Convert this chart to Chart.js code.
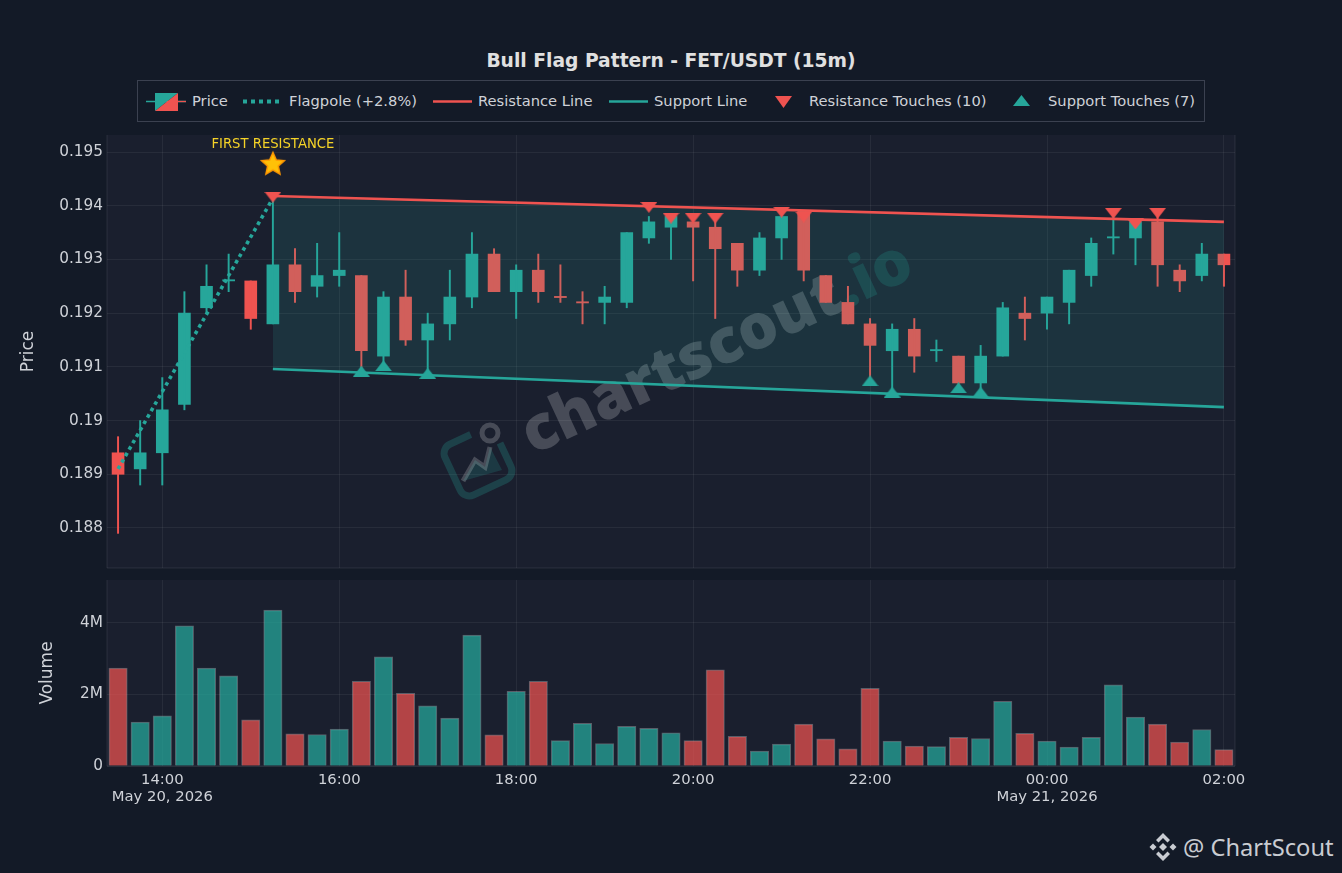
<!DOCTYPE html>
<html>
<head>
<meta charset="utf-8">
<title>Bull Flag Pattern - FET/USDT (15m)</title>
<script src="https://cdn.jsdelivr.net/npm/chart.js@4"></script>
<style>
    html, body { margin: 0; padding: 0; background: #131a27; width: 1342px; height: 873px; overflow: hidden; }
    body { position: relative; font-family: "DejaVu Sans", sans-serif; color: #d0d3d9; }
    canvas { position: absolute; left: 0; }
    #priceChart { top: 125px; }
    #volumeChart { top: 575px; }
    #title { position: absolute; left: 0; width: 1342px; top: 50px; text-align: center; font-size: 18.7px; line-height: 22px; font-weight: bold; color: #e0e0e0; }
    #legend { position: absolute; left: 137px; top: 80px; width: 1066px; height: 40px; border: 1px solid #3b4150; box-sizing: content-box; }
    #legend span { position: absolute; top: 0; line-height: 40px; font-size: 14.7px; white-space: nowrap; color: #cfd2d8; }
    #legend svg { position: absolute; left: 0; top: 0; }
    #brand { position: absolute; left: 1183px; top: 830px; font-family: "Noto Sans", sans-serif; font-size: 23.7px; line-height: 34px; color: #c9ccd2; white-space: nowrap; }
    #brandLogo { position: absolute; left: 1148px; top: 832px; }
</style>
</head>
<body>
<div id="title">Bull Flag Pattern - FET/USDT (15m)</div>
<div id="legend">
    <svg width="1066" height="40">
        <line x1="8" y1="20.5" x2="48" y2="20.5" stroke="#26a69a" stroke-width="1.3"/>
        <line x1="28" y1="20.5" x2="48" y2="20.5" stroke="#ef5350" stroke-width="1.3"/>
        <polygon points="17,12 40,12 17,30" fill="#26a69a"/>
        <polygon points="40,12 40,30 17,30" fill="#ef5350"/>
        <line x1="105" y1="20.5" x2="142" y2="20.5" stroke="#26a69a" stroke-width="4" stroke-dasharray="4 4"/>
        <line x1="295" y1="20.5" x2="334" y2="20.5" stroke="#ef5350" stroke-width="2.5"/>
        <line x1="471" y1="20.5" x2="510" y2="20.5" stroke="#26a69a" stroke-width="2.5"/>
        <polygon points="637,15 654,15 645.5,27" fill="#ef5350"/>
        <polygon points="875,25 892,25 883.5,14" fill="#26a69a"/>
    </svg>
</div>
<canvas id="priceChart" width="1342" height="450"></canvas>
<canvas id="volumeChart" width="1342" height="230"></canvas>
<svg id="brandLogo" width="30" height="30" viewBox="0 0 30 30" fill="#c9ccd2">
    <polygon points="15,1 22,8 19.5,10.5 15,6 10.5,10.5 8,8"/>
    <polygon points="15,29 8,22 10.5,19.5 15,24 19.5,19.5 22,22"/>
    <polygon points="5,11.5 8.5,15 5,18.5 1.5,15"/>
    <polygon points="25,11.5 28.5,15 25,18.5 21.5,15"/>
    <polygon points="15,11 19,15 15,19 11,15"/>
</svg>
<div id="brand">@ ChartScout</div>

<script>
// 15 minute candles, 13:30 to 02:00
const times = ['13:30', '13:45', '14:00', '14:15', '14:30', '14:45', '15:00', '15:15', '15:30', '15:45',
    '16:00', '16:15', '16:30', '16:45', '17:00', '17:15', '17:30', '17:45', '18:00', '18:15',
    '18:30', '18:45', '19:00', '19:15', '19:30', '19:45', '20:00', '20:15', '20:30', '20:45',
    '21:00', '21:15', '21:30', '21:45', '22:00', '22:15', '22:30', '22:45', '23:00', '23:15',
    '23:30', '23:45', '00:00', '00:15', '00:30', '00:45', '01:00', '01:15', '01:30', '01:45', '02:00'];

const opens = [0.1894, 0.1891, 0.1894, 0.1903, 0.1921, 0.1926, 0.1926, 0.1918, 0.1929, 0.1925,
    0.1927, 0.1927, 0.1912, 0.1923, 0.1915, 0.1918, 0.1923, 0.1931, 0.1924, 0.1928,
    0.1923, 0.1922, 0.1922, 0.1922, 0.1934, 0.1936, 0.1937, 0.1936, 0.1933, 0.1928,
    0.1934, 0.1939, 0.1927, 0.1922, 0.1918, 0.1913, 0.1917, 0.1913, 0.1912, 0.1907,
    0.1912, 0.1920, 0.1920, 0.1922, 0.1927, 0.1934, 0.1934, 0.1937, 0.1928, 0.1927, 0.1931];
const highs = [0.1897, 0.1900, 0.1908, 0.1924, 0.1929, 0.1931, 0.1926, 0.1942, 0.1932, 0.1933,
    0.1935, 0.1927, 0.1924, 0.1928, 0.1920, 0.1928, 0.1935, 0.1932, 0.1929, 0.1931,
    0.1929, 0.1924, 0.1925, 0.1935, 0.1938, 0.1938, 0.1937, 0.1938, 0.1933, 0.1935,
    0.1939, 0.1939, 0.1927, 0.1925, 0.1919, 0.1918, 0.1919, 0.1915, 0.1912, 0.1914,
    0.1922, 0.1923, 0.1923, 0.1928, 0.1934, 0.1938, 0.1937, 0.1938, 0.1929, 0.1933, 0.1931];
const lows = [0.1879, 0.1888, 0.1888, 0.1902, 0.1920, 0.1924, 0.1917, 0.1918, 0.1922, 0.1923,
    0.1925, 0.1909, 0.1910, 0.1914, 0.1909, 0.1915, 0.1921, 0.1924, 0.1919, 0.1922,
    0.1922, 0.1918, 0.1918, 0.1921, 0.1933, 0.1930, 0.1926, 0.1919, 0.1925, 0.1927,
    0.1930, 0.1926, 0.1922, 0.1918, 0.1908, 0.1905, 0.1909, 0.1911, 0.1906, 0.1906,
    0.1912, 0.1915, 0.1917, 0.1918, 0.1925, 0.1931, 0.1929, 0.1925, 0.1924, 0.1926, 0.1925];
const closes = [0.1890, 0.1894, 0.1902, 0.1920, 0.1925, 0.1926, 0.1919, 0.1929, 0.1924, 0.1927,
    0.1928, 0.1913, 0.1923, 0.1915, 0.1918, 0.1923, 0.1931, 0.1924, 0.1928, 0.1924,
    0.19229, 0.19219, 0.1923, 0.1935, 0.1937, 0.1938, 0.1936, 0.1932, 0.1928, 0.1934,
    0.1938, 0.1928, 0.1922, 0.1918, 0.1914, 0.1917, 0.1912, 0.1913, 0.1907, 0.1912,
    0.1921, 0.1919, 0.1923, 0.1928, 0.1933, 0.1934, 0.1937, 0.1929, 0.1926, 0.1931, 0.1929];

// volume in millions, and whether the bar was drawn green
const volumes = [2.74, 1.23, 1.40, 3.92, 2.74, 2.52, 1.29, 4.36, 0.90, 0.88,
    1.03, 2.37, 3.05, 2.03, 1.68, 1.34, 3.66, 0.87, 2.09, 2.37,
    0.71, 1.19, 0.63, 1.11, 1.05, 0.93, 0.71, 2.69, 0.83, 0.42,
    0.61, 1.17, 0.76, 0.48, 2.17, 0.70, 0.56, 0.54, 0.80, 0.77,
    1.81, 0.91, 0.70, 0.53, 0.80, 2.27, 1.37, 1.17, 0.67, 1.02, 0.46];
const volumeUp = [0, 1, 1, 1, 1, 1, 0, 1, 0, 1,
    1, 0, 1, 0, 1, 1, 1, 0, 1, 0,
    1, 1, 1, 1, 1, 1, 0, 0, 0, 1,
    1, 0, 0, 0, 0, 1, 0, 1, 0, 1,
    1, 0, 1, 1, 1, 1, 1, 0, 0, 1, 0];

// pattern lines and touches
const flagpoleTimes = ['13:30', '15:15'];
const flagpoleValues = [0.1891, 0.19414];
const channelTimes = ['15:15', '02:00'];
const resistanceValues = [0.19418, 0.19370];
const supportValues = [0.19096, 0.19025];
const resistanceTouchTimes = ['15:15', '19:30', '19:45', '20:00', '20:15', '21:00', '21:15', '00:45', '01:00', '01:15'];
const resistanceTouchValues = [0.19416, 0.19397, 0.19377, 0.19377, 0.19377, 0.19388, 0.19379, 0.19386, 0.19366, 0.19386];
const supportTouchTimes = ['16:15', '16:30', '17:00', '22:00', '22:15', '23:00', '23:15'];
const supportTouchValues = [0.19092, 0.19102, 0.19088, 0.19074, 0.19053, 0.19061, 0.19053];
const starTimes = ['15:15'];
const starValues = [0.19478];

// axis labels
const priceTicks = [0.188, 0.189, 0.19, 0.191, 0.192, 0.193, 0.194, 0.195];
const volumeTicks = [0, 2, 4];
const timeTicks = ['14:00', '16:00', '18:00', '20:00', '22:00', '00:00', '02:00'];
const dateLabels = { '14:00': 'May 20, 2026', '00:00': 'May 21, 2026' };
const legendLabels = ['Price', 'Flagpole (+2.8%)', 'Resistance Line', 'Support Line', 'Resistance Touches (10)', 'Support Touches (7)'];
const legendLefts = [54, 151, 340, 516, 671, 910];

const GREEN = '#26a69a';
const RED = '#ef5350';
const GRID = 'rgba(255, 255, 255, 0.06)';
const TEXT = '#cfd2d8';

Chart.defaults.font.family = '"DejaVu Sans", sans-serif';
Chart.defaults.font.size = 14.8;
Chart.defaults.color = TEXT;
Chart.defaults.animation = false;

// legend text
const legendEl = document.getElementById('legend');
legendLabels.forEach(function(text, i) {
    const span = document.createElement('span');
    span.textContent = text;
    span.style.left = legendLefts[i] + 'px';
    legendEl.appendChild(span);
});

// marker images for the touches and the star
function triangleMarker(color, up) {
    const c = document.createElement('canvas');
    c.width = 17;
    c.height = 11;
    const ctx = c.getContext('2d');
    ctx.fillStyle = color;
    ctx.beginPath();
    if (up) {
        ctx.moveTo(8.5, 0); ctx.lineTo(17, 11); ctx.lineTo(0, 11);
    } else {
        ctx.moveTo(0, 0); ctx.lineTo(17, 0); ctx.lineTo(8.5, 11);
    }
    ctx.closePath();
    ctx.fill();
    return c;
}

function starMarker() {
    const c = document.createElement('canvas');
    c.width = 28;
    c.height = 28;
    const ctx = c.getContext('2d');
    ctx.beginPath();
    for (let i = 0; i < 10; i++) {
        const r = i % 2 ? 5.6 : 12;
        const a = -Math.PI / 2 + i * Math.PI / 5;
        ctx.lineTo(14 + r * Math.cos(a), 14.5 + r * Math.sin(a));
    }
    ctx.closePath();
    ctx.fillStyle = '#ffc107';
    ctx.fill();
    ctx.strokeStyle = '#ff9800';
    ctx.lineWidth = 1.5;
    ctx.stroke();
    return c;
}

function toPoints(xs, ys) {
    return xs.map(function(x, i) { return { x: x, y: ys[i] }; });
}

function candleColor(i) {
    return closes[i] >= opens[i] ? GREEN : RED;
}

// plot background and the faint frame down the sides
const plotBackground = {
    id: 'plotBackground',
    beforeDraw: function(chart) {
        const a = chart.chartArea;
        const ctx = chart.ctx;
        ctx.save();
        ctx.fillStyle = '#1a1f2e';
        ctx.fillRect(a.left, a.top, a.right - a.left, a.bottom - a.top);
        ctx.restore();
    },
    afterDatasetsDraw: function(chart) {
        const a = chart.chartArea;
        const ctx = chart.ctx;
        ctx.save();
        ctx.strokeStyle = 'rgba(255, 255, 255, 0.09)';
        ctx.lineWidth = 1;
        ctx.beginPath();
        ctx.moveTo(a.left, a.top);
        ctx.lineTo(a.left, a.bottom);
        ctx.lineTo(a.right, a.bottom);
        ctx.lineTo(a.right, a.top);
        ctx.stroke();
        ctx.restore();
    }
};

// chartscout.io mark behind the candles
const watermark = {
    id: 'watermark',
    beforeDatasetsDraw: function(chart) {
        const ctx = chart.ctx;
        ctx.save();
        ctx.translate(533, 330);
        ctx.rotate(-25 * Math.PI / 180);
        ctx.font = '800 62px "Open Sans", sans-serif';
        ctx.textBaseline = 'alphabetic';
        ctx.fillStyle = 'rgba(255, 255, 255, 0.2)';
        ctx.fillText('chartscout', 0, 0);
        const w = ctx.measureText('chartscout').width;
        ctx.fillStyle = 'rgba(38, 166, 154, 0.22)';
        ctx.fillText('.io', w, 0);
        ctx.restore();

        // logo: frame open at the top right, then circle and zigzag
        ctx.save();
        ctx.translate(478, 337);
        ctx.save();
        ctx.rotate(-25 * Math.PI / 180);
        ctx.lineWidth = 7;
        ctx.strokeStyle = 'rgba(38, 166, 154, 0.25)';
        ctx.beginPath();
        ctx.moveTo(5, -28);
        ctx.lineTo(-18, -28);
        ctx.arcTo(-28, -28, -28, -18, 10);
        ctx.lineTo(-28, 18);
        ctx.arcTo(-28, 28, -18, 28, 10);
        ctx.lineTo(18, 28);
        ctx.arcTo(28, 28, 28, 18, 10);
        ctx.lineTo(28, -8);
        ctx.stroke();
        ctx.restore();
        ctx.fillStyle = 'rgba(38, 166, 154, 0.2)';
        ctx.beginPath();
        ctx.moveTo(-15, 19); ctx.lineTo(-3, -2); ctx.lineTo(7, 5); ctx.lineTo(12, -15); ctx.lineTo(24, 8);
        ctx.closePath();
        ctx.fill();
        ctx.lineWidth = 5;
        ctx.strokeStyle = 'rgba(255, 255, 255, 0.2)';
        ctx.beginPath();
        ctx.moveTo(-15, 19); ctx.lineTo(-3, -2); ctx.lineTo(7, 5); ctx.lineTo(12, -15);
        ctx.stroke();
        ctx.beginPath();
        ctx.arc(12, -29, 8, 0, Math.PI * 2);
        ctx.stroke();
        ctx.restore();
    }
};

// the label above the star
const starLabel = {
    id: 'starLabel',
    afterDatasetsDraw: function(chart) {
        const x = chart.scales.x.getPixelForValue(times.indexOf(starTimes[0]));
        const y = chart.scales.y.getPixelForValue(starValues[0]);
        const ctx = chart.ctx;
        ctx.save();
        ctx.font = '13.2px "DejaVu Sans", sans-serif';
        ctx.fillStyle = '#f5d327';
        ctx.textAlign = 'center';
        ctx.textBaseline = 'middle';
        ctx.fillText('FIRST RESISTANCE', x, y - 19.5);
        ctx.restore();
    }
};

function keepTimeTicks(scale) {
    scale.ticks = scale.ticks.filter(function(t) { return timeTicks.includes(times[t.value]); });
}

// fixed axis sizes, no room kept for half a tick label
function fitYAxis(scale) {
    scale.width = 107;
    scale.paddingTop = 0;
    scale.paddingBottom = 0;
}

function clearXPadding(scale) {
    scale.paddingLeft = 0;
    scale.paddingRight = 0;
}

new Chart(document.getElementById('priceChart').getContext('2d'), {
    data: {
        labels: times,
        datasets: [
            { type: 'line', data: toPoints(starTimes, starValues), showLine: false, order: 0,
              pointStyle: starMarker(), pointRadius: 14 },
            { type: 'line', data: toPoints(resistanceTouchTimes, resistanceTouchValues), showLine: false, order: 0,
              pointStyle: triangleMarker(RED, false), pointRadius: 9 },
            { type: 'line', data: toPoints(supportTouchTimes, supportTouchValues), showLine: false, order: 0,
              pointStyle: triangleMarker(GREEN, true), pointRadius: 9 },
            { type: 'line', data: toPoints(channelTimes, supportValues), order: 1,
              borderColor: GREEN, borderWidth: 2.6, pointRadius: 0 },
            { type: 'line', data: toPoints(channelTimes, resistanceValues), order: 1,
              borderColor: RED, borderWidth: 2.6, pointRadius: 0,
              fill: 3, backgroundColor: 'rgba(38, 166, 154, 0.15)' },
            { type: 'line', data: toPoints(flagpoleTimes, flagpoleValues), order: 2,
              borderColor: GREEN, borderWidth: 3.6, borderDash: [3.6, 3.8], pointRadius: 0 },
            // candle wicks and bodies as floating bars
            { type: 'bar', data: lows.map(function(l, i) { return [l, highs[i]]; }), order: 3, grouped: false,
              backgroundColor: times.map(function(t, i) { return candleColor(i); }), barThickness: 1.3 },
            { type: 'bar', data: opens.map(function(o, i) { return [o, closes[i]]; }), order: 3, grouped: false,
              backgroundColor: times.map(function(t, i) { return candleColor(i); }), barThickness: 12, minBarLength: 1.2 }
        ]
    },
    options: {
        responsive: false,
        layout: { autoPadding: false, padding: { top: 10, bottom: 7, right: 107 } },
        plugins: { legend: { display: false }, tooltip: { enabled: false }, title: { display: false } },
        scales: {
            x: {
                type: 'category',
                offset: true,
                grid: { color: GRID, offset: false, drawTicks: false },
                border: { display: false },
                ticks: { display: false, autoSkip: false },
                afterBuildTicks: keepTimeTicks,
                afterFit: function(scale) { clearXPadding(scale); scale.height = 0; }
            },
            y: {
                min: 0.187255,
                max: 0.195317,
                grid: { color: GRID, drawTicks: false },
                border: { display: false },
                title: { display: true, text: 'Price', font: { size: 17 }, padding: { top: 18 }, color: TEXT },
                ticks: {
                    padding: 4,
                    font: { size: 15.3 },
                    callback: function(v) { return String(parseFloat(v.toFixed(3))); }
                },
                afterBuildTicks: function(scale) {
                    scale.ticks = priceTicks.map(function(v) { return { value: v }; });
                },
                afterFit: fitYAxis
            }
        }
    },
    plugins: [plotBackground, watermark, starLabel]
});

new Chart(document.getElementById('volumeChart').getContext('2d'), {
    type: 'bar',
    data: {
        labels: times,
        datasets: [{
            data: volumes,
            barThickness: 18.4,
            borderWidth: 1,
            backgroundColor: volumeUp.map(function(u) { return u ? 'rgba(38, 166, 154, 0.75)' : 'rgba(239, 83, 80, 0.72)'; }),
            borderColor: 'rgba(255, 255, 255, 0.28)'
        }]
    },
    options: {
        responsive: false,
        layout: { autoPadding: false, padding: { top: 5, right: 107 } },
        plugins: { legend: { display: false }, tooltip: { enabled: false } },
        scales: {
            x: {
                offset: true,
                grid: { color: GRID, offset: false, drawTicks: false },
                border: { display: false },
                ticks: {
                    autoSkip: false,
                    maxRotation: 0,
                    padding: 5,
                    callback: function(v) {
                        const t = times[v];
                        return dateLabels[t] ? [t, dateLabels[t]] : t;
                    }
                },
                afterBuildTicks: keepTimeTicks,
                afterFit: function(scale) { clearXPadding(scale); scale.height = 39; }
            },
            y: {
                min: 0,
                max: 5.2,
                grid: { color: GRID, drawTicks: false },
                border: { display: false },
                title: { display: true, text: 'Volume', font: { size: 17 }, padding: { top: 37 }, color: TEXT },
                ticks: {
                    padding: 4,
                    font: { size: 15.3 },
                    callback: function(v) { return v === 0 ? '0' : v + 'M'; }
                },
                afterBuildTicks: function(scale) {
                    scale.ticks = volumeTicks.map(function(v) { return { value: v }; });
                },
                afterFit: fitYAxis
            }
        }
    },
    plugins: [plotBackground]
});
</script>
</body>
</html>
